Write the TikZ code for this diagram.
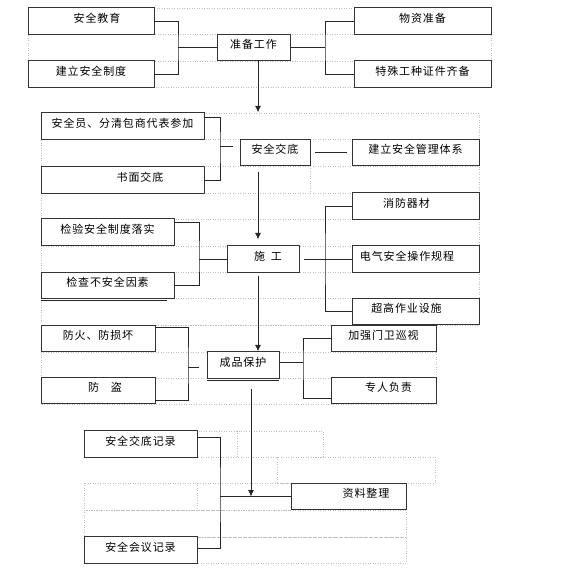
\documentclass[tikz,border=0pt]{standalone}
\usepackage{fontspec}
\setmainfont{Noto Sans CJK SC}[LetterSpace=8]
\usetikzlibrary{arrows.meta}

\begin{document}
\begin{tikzpicture} [
    x=1bp, y=-1bp,
    box/.style   = { rectangle, draw=black!80, fill=white, line width=0.8bp,
                     minimum height=26.5bp, inner sep=0pt,
                     text height=9bp, text depth=6.5bp,
                     font=\fontsize{11bp}{13bp}\selectfont },
    line/.style  = { draw=black!85, line width=0.75bp },
    arrow/.style = { line, -{Latex[length=6.5bp,width=6bp]} },
    grid/.style  = { draw=black!25, dotted, line width=0.5bp },
  ]
  \useasboundingbox (0,0) rectangle (566,578);

  % table grid behind the boxes
  \draw[grid] (28,8) rectangle (491,87) (28,34) -- (491,34) (28,61) -- (491,61);
  \draw[grid] (41,113) rectangle (479,325);
  \foreach \y in {139,166,193,219,246,272,298}
    \draw[grid] (41,\y) -- (479,\y);
  \draw[grid] (310,166) -- (310,193);
  \draw[grid] (41,325) rectangle (436,404) (41,352) -- (436,352) (41,378) -- (436,378);
  \draw[grid] (197,431) rectangle (323,457) (237,431) -- (237,457);
  \draw[grid] (277,457) rectangle (435,483);
  \draw[grid] (84,483) rectangle (291,510) (197,483) -- (197,510);
  \draw[grid] (84,510) rectangle (406,537);
  \draw[grid] (197,537) rectangle (406,563);

  % Define nodes
  \node[box, minimum width=126bp] (jiaoyu)  at (91,21)  {\hspace*{12bp}安全教育};
  \node[box, minimum width=126bp] (zhidu)   at (91,74)  {建立安全制度};
  \node[box, minimum width=73bp]  (zhunbei) at (253.5,47.5) {准备工作};
  \node[box, minimum width=137bp] (wuzi)    at (422.5,21) {物资准备};
  \node[box, minimum width=137bp] (tezhong) at (422.5,74) {特殊工种证件齐备};

  \node[box, minimum width=163bp] (canjia)  at (122.5,126) {安全员、分清包商代表参加};
  \node[box, minimum width=163bp] (shumian) at (122.5,180) {\hspace*{35bp}书面交底};
  \node[box, minimum width=70bp]  (jiaodi)  at (275,152.5) {安全交底};
  \node[box, minimum width=127bp] (tixi)    at (415.5,152.5) {建立安全管理体系};

  \node[box, minimum width=127bp] (xiaofang) at (415.5,206) {消防器材\hspace*{18bp}};
  \node[box, minimum width=133bp] (jianyan)  at (107.5,232) {检验安全制度落实};
  \node[box, minimum width=72bp]  (shigong)  at (263,259) {\hspace*{10bp}施\hspace{6bp}工};
  \node[box, minimum width=127bp] (dianqi)   at (415.5,259) {电气安全操作规程\hspace*{17bp}};
  \node[box, minimum width=133bp] (jiancha)  at (107.5,285.5) {检查不安全因素};
  \node[box, minimum width=127bp] (chaogao)  at (415.5,311.5) {超高作业设施\hspace*{18bp}};

  \node[box, minimum width=114bp] (fanghuo)  at (98,338.5) {防火、防损坏};
  \node[box, minimum width=114bp] (fangdao)  at (98,390.5) {\hspace*{14bp}防\hspace{12bp}盗};
  \node[box, minimum width=72bp]  (baohu)    at (243,365) {成品保护};
  \node[box, minimum width=105bp] (menwei)   at (383.5,338.5) {加强门卫巡视};
  \node[box, minimum width=105bp] (zhuanren) at (383.5,390.5) {\hspace*{10bp}专人负责};

  \node[box, minimum width=113bp] (jilu)    at (140.5,444) {安全交底记录};
  \node[box, minimum width=115bp] (zhengli) at (348.5,496.5) {\hspace*{35bp}资料整理};
  \node[box, minimum width=113bp] (huiyi)   at (140.5,550) {安全会议记录};

  % junctions of the brackets
  \coordinate (ax) at (258,0);
  \coordinate (s1) at (178,47.5);
  \coordinate (s2) at (325,47.5);
  \coordinate (s3) at (220,146);
  \coordinate (s4) at (199,259);
  \coordinate (s5) at (325,259);
  \coordinate (s6) at (188,367);
  \coordinate (s7) at (303,362);
  \coordinate (s8) at (220,496.5);

  % connect the nodes
  \path [line] (jiaoyu.east) -| (s1) |- (zhidu.east);
  \path [line] (s1) -- (zhunbei.west);
  \path [line] (wuzi.west) -| (s2) |- (tezhong.west);
  \path [line] (zhunbei.east) -- (s2);
  \path [arrow] (ax |- zhunbei.south) -- (ax |- canjia.north);

  \path [line] ([yshift=-5bp]canjia.north east) -| (s3) |- (shumian.east);
  \path [line, shorten >=7bp] (s3) -- (s3 -| jiaodi.west);
  \path [line, shorten <=5bp, shorten >=5bp] (jiaodi) -- (tixi);
  \path [arrow, shorten <=6bp, shorten >=6bp] (ax |- jiaodi.south) -- (ax |- shigong.north);

  \path [line] ([yshift=-4bp]jianyan.north east) -| (s4) |- (jiancha.east);
  \path [line] (s4) -- (shigong.west);
  \path [line] (xiaofang.west) -| (s5) |- (chaogao.west);
  \path [line] (s5) -- (dianqi.west);
  \path [line, shorten <=5bp] (shigong.east) -- (s5);
  \path [arrow, shorten <=3bp] (ax |- shigong.south) -- (ax |- baohu.north);

  \path [line] ([yshift=-3bp]fanghuo.north east) -| (s6) |- ([yshift=4bp]fangdao.south east);
  \path [line, shorten >=8bp] (s6) -- (s6 -| baohu.west);
  \path [line] (menwei.west) -| (s7) |- ([yshift=6bp]zhuanren.south west);
  \path [line] (baohu.east |- s7) -- (s7);
  \path [line] ([yshift=-2bp]baohu.south west) -- ([yshift=-2bp]baohu.south east);
  \path [line] ([yshift=-0.8bp]jiancha.south west) -- ([yshift=-0.8bp,xshift=-7bp]jiancha.south east);

  \path [line] ([yshift=-7bp]jilu.north east) -| (s8) |- ([yshift=2bp]huiyi.south east |- huiyi.east);
  \path [line] (s8) -- (zhengli.west);
  \path [arrow, shorten <=10bp] ([xshift=8bp]baohu.south) -- ([xshift=8bp]baohu.south |- s8);
\end{tikzpicture}
\end{document}
